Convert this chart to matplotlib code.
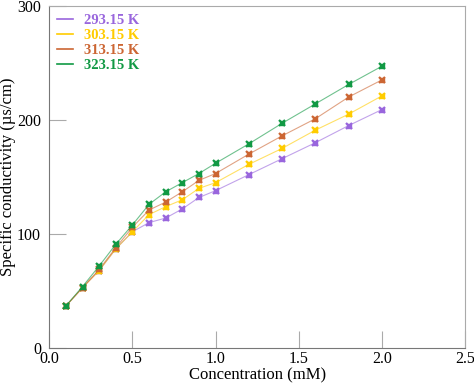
import matplotlib
matplotlib.use("Agg")
from matplotlib import pyplot as plt

plt.rcParams['font.family'] = ['Liberation Serif', 'DejaVu Serif']

conc = [0.1, 0.2, 0.3, 0.4, 0.5, 0.6, 0.7, 0.8, 0.9, 1.0, 1.2, 1.4, 1.6, 1.8, 2.0]

k293 = [37, 53, 68, 87, 102, 110, 114, 122, 132, 138, 152, 166, 180, 195, 209]
k303 = [37, 53, 68, 87, 102, 117, 124, 130, 140, 145, 161, 175, 191, 205, 221]
k313 = [37, 53, 69, 88, 106, 121, 128, 137, 147, 153, 170, 186, 201, 220, 235]
k323 = [37, 54, 72, 91, 108, 126, 137, 145, 153, 162, 179, 197, 214, 231, 247]

labels = ["293.15 K", "303.15 K", "313.15 K", "323.15 K"]
colors = ["#9966dd", "#ffcc00", "#cc6633", "#119944"]

fig, ax = plt.subplots(figsize=(4.74, 3.83), dpi=100)
fig.subplots_adjust(left=0.104, right=0.981, bottom=0.091, top=0.985)

for vals, lab, c in zip([k293, k303, k313, k323], labels, colors):
    ax.plot(conc, vals, color=c, lw=0.8, alpha=0.6, label=lab)
    ax.plot(conc, vals, ls="none", marker="x", ms=5, mew=1.6, color=c)
    ax.plot(conc, vals, ls="none", marker="s", ms=2.5, color=c)

ax.set_xlim(0, 2.5)
ax.set_ylim(0, 300)
ax.set_xticks([0.0, 0.5, 1.0, 1.5, 2.0, 2.5])
ax.set_yticks([0, 100, 200, 300])
ax.xaxis.set_major_formatter(matplotlib.ticker.FormatStrFormatter("%.1f"))

for s in ax.spines.values():
    s.set_color("#aaaaaa")
ax.spines["left"].set_color("#777777")
ax.spines["bottom"].set_color("#777777")
ax.tick_params(direction="in", length=12, color="#aaaaaa", labelsize=11.5, pad=2)
ax.tick_params(axis="y", pad=6)

ax.set_xlabel("Concentration (mM)", fontsize=12, labelpad=0)
ax.set_ylabel("Specific conductivity (\u00b5s/cm)", fontsize=12, labelpad=1)

leg = ax.legend(loc="upper left", frameon=False, handlelength=1.1,
                handletextpad=0.7, labelspacing=0.12, borderaxespad=0.15,
                prop={"weight": "bold", "size": 10.5})
for t, c in zip(leg.get_texts(), colors):
    t.set_color(c)
for h in leg.get_lines():
    h.set_alpha(1)
    h.set_linewidth(1.2)

plt.savefig("out.png", dpi=100)
